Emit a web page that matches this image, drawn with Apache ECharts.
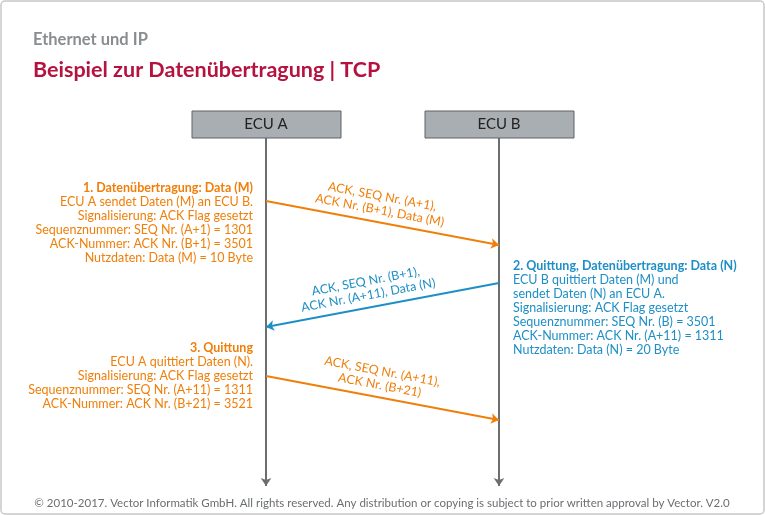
<!DOCTYPE html><html><head><meta charset="utf-8">
<script src="https://cdn.jsdelivr.net/npm/echarts@6/dist/echarts.min.js"></script>
<style>html,body{margin:0;padding:0;background:#fff}#c{width:765px;height:515px}</style></head><body><div id="c"></div>
<script>
const ORANGE='#f07f0a', BLUE='#1e8fc6';
const participants=['ECU A','ECU B'];
const lifelineX=[266,499];
const messages=[
 {from:0,to:1,y1:201,y2:245,color:ORANGE,label:['ACK, SEQ Nr. (A+1),','ACK Nr. (B+1), Data (M)']},
 {from:1,to:0,y1:283,y2:327,color:BLUE,label:['ACK, SEQ Nr. (B+1),','ACK Nr. (A+11), Data (N)']},
 {from:0,to:1,y1:376,y2:420,color:ORANGE,label:['ACK, SEQ Nr. (A+11),','ACK Nr. (B+21)']}
];
const notes=[
 {side:'left',y:188,color:ORANGE,title:'1. Datenübertragung: Data (M)',lines:['ECU A sendet Daten (M) an ECU B.','Signalisierung: ACK Flag gesetzt','Sequenznummer: SEQ Nr. (A+1) = 1301','ACK-Nummer: ACK Nr. (B+1) = 3501','Nutzdaten: Data (M) = 10 Byte']},
 {side:'right',y:266,color:BLUE,title:'2. Quittung, Datenübertragung: Data (N)',lines:['ECU B quittiert Daten (M) und','sendet Daten (N) an ECU A.','Signalisierung: ACK Flag gesetzt','Sequenznummer: SEQ Nr. (B) = 3501','ACK-Nummer: ACK Nr. (A+11) = 1311','Nutzdaten: Data (N) = 20 Byte']},
 {side:'left',y:348,color:ORANGE,title:'3. Quittung',lines:['ECU A quittiert Daten (N).','Signalisierung: ACK Flag gesetzt','Sequenznummer: SEQ Nr. (A+11) = 1311','ACK-Nummer: ACK Nr. (B+21) = 3521']}
];
const F='Lato, "Open Sans", sans-serif';
const chart=echarts.init(document.getElementById('c'),null,{renderer:'canvas'});
const lineData=[];
lifelineX.forEach(x=>lineData.push({coords:[[x,138],[x,486]],lineStyle:{color:'#6b6e71',width:2,opacity:1}}));
messages.forEach(m=>lineData.push({coords:[[lifelineX[m.from],m.y1],[lifelineX[m.to],m.y2]],lineStyle:{color:m.color,width:1.8,opacity:1}}));
const g=[];
g.push({type:'rect',shape:{x:1,y:1,width:763,height:513,r:4},style:{fill:'none',stroke:'#c8c8c8',lineWidth:1.5}});
g.push({type:'text',x:33,y:31,style:{text:'Ethernet und IP',fill:'#8a8d90',font:'bold 16.5px '+F}});
g.push({type:'text',x:33,y:59,style:{text:'Beispiel zur Datenübertragung | TCP',fill:'#b5123f',font:'bold 21.5px '+F}});
participants.forEach((p,i)=>{
 const x=lifelineX[i];
 g.push({type:'rect',shape:{x:x-74,y:111,width:149,height:27},style:{fill:'#a9aeb2',stroke:'#5f6366',lineWidth:1}});
 g.push({type:'text',x:x,y:124.5,style:{text:p,fill:'#222',font:'15px '+F,align:'center',verticalAlign:'middle'}});
});
notes.forEach(n=>{
 const x=n.side==='left'?253:513, al=n.side==='left'?'right':'left';
 g.push({type:'text',x:x,y:n.y,style:{text:n.title,fill:n.color,font:'bold 12.5px '+F,align:al,verticalAlign:'middle'}});
 n.lines.forEach((l,k)=>g.push({type:'text',x:x,y:n.y+14*(k+1),style:{text:l,fill:n.color,font:'12.5px '+F,align:al,verticalAlign:'middle'}}));
});
messages.forEach(m=>{
 const x1=lifelineX[m.from],x2=lifelineX[m.to];
 const ang=Math.atan2(m.y2-m.y1,Math.abs(x2-x1));
 const rot=x2>x1?-ang:ang;
 const cx=(x1+x2)/2+(x2>x1?-5:-12), cy=(m.y1+m.y2)/2+(x2>x1?-1:2);
 m.label.forEach((t,k)=>{
  const d=k===0?26:12;
  g.push({type:'text',x:cx-Math.sin(rot)*d,y:cy-Math.cos(rot)*d,rotation:rot,
   style:{text:t,fill:m.color,font:'12.5px '+F,align:'center',verticalAlign:'middle'}});
 });
});
g.push({type:'text',x:382,y:503,style:{text:'© 2010-2017. Vector Informatik GmbH. All rights reserved. Any distribution or copying is subject to prior written approval by Vector. V2.0',fill:'#6b6e71',font:'11.5px '+F,align:'center',verticalAlign:'middle'}});
chart.setOption({
 animation:false,
 grid:{left:0,right:0,top:0,bottom:0},
 xAxis:{type:'value',min:0,max:765,show:false},
 yAxis:{type:'value',min:0,max:515,inverse:true,show:false},
 series:[{type:'lines',coordinateSystem:'cartesian2d',symbol:['none','arrow'],symbolSize:8,data:lineData,z:1}],
 graphic:{elements:g}
});
</script></body></html>
